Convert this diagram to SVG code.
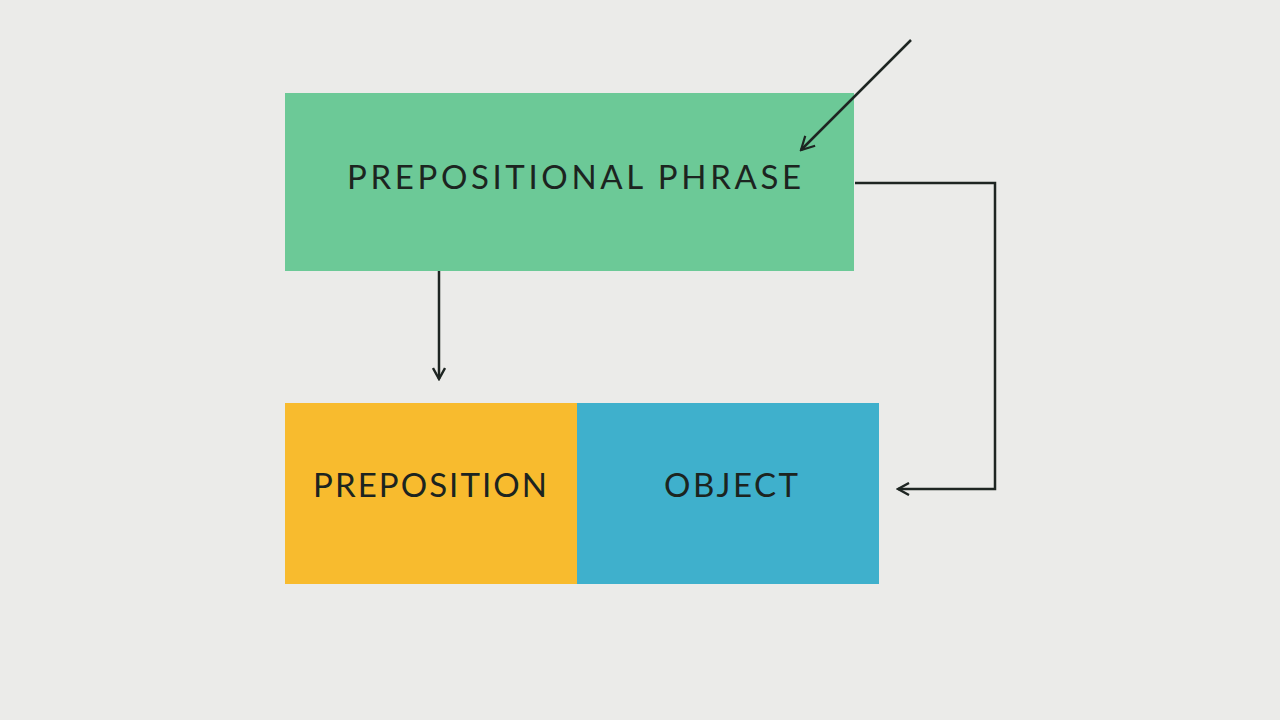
<svg xmlns="http://www.w3.org/2000/svg" width="1280" height="720" viewBox="0 0 1280 720">
<defs>
<style>
.lbl{font-family:Lato,"Noto Sans","Liberation Sans",sans-serif;font-size:33px;fill:#1c2420;letter-spacing:2px}
.ln{fill:none;stroke:#1e2522;stroke-width:2.5}
</style>
<marker id="ah" viewBox="0 0 14 14" refX="12" refY="7" markerWidth="14" markerHeight="14" markerUnits="userSpaceOnUse" orient="auto">
<path d="M1,1 L12,7 L1,13" fill="none" stroke="#1e2522" stroke-width="2.4"/>
</marker>
<marker id="ahb" viewBox="0 0 16 16" refX="14" refY="8" markerWidth="16" markerHeight="16" markerUnits="userSpaceOnUse" orient="auto">
<path d="M1,1 L14,8 L1,15" fill="none" stroke="#1e2522" stroke-width="2.2"/>
</marker>
</defs>
<rect width="1280" height="720" fill="#ebebe9"/>
<g id="phrase">
<rect x="285" y="93" width="569" height="178" fill="#6cc997"/>
<text class="lbl" x="347" y="189" textLength="456" lengthAdjust="spacing">PREPOSITIONAL PHRASE</text>
</g>
<g id="preposition">
<rect x="285" y="403" width="292" height="181" fill="#f8bb2e"/>
<text class="lbl" x="313" y="497" textLength="236" lengthAdjust="spacing">PREPOSITION</text>
</g>
<g id="object">
<rect x="577" y="403" width="302" height="181" fill="#3fb0cc"/>
<text class="lbl" x="664" y="497" textLength="136" lengthAdjust="spacing">OBJECT</text>
</g>
<g id="connectors">
<path class="ln" d="M911,40 L801,150" marker-end="url(#ahb)"/>
<path class="ln" d="M439,271 L439,379" marker-end="url(#ah)"/>
<path class="ln" d="M855,183 L995,183 L995,489 L898,489" marker-end="url(#ah)"/>
</g>
</svg>
